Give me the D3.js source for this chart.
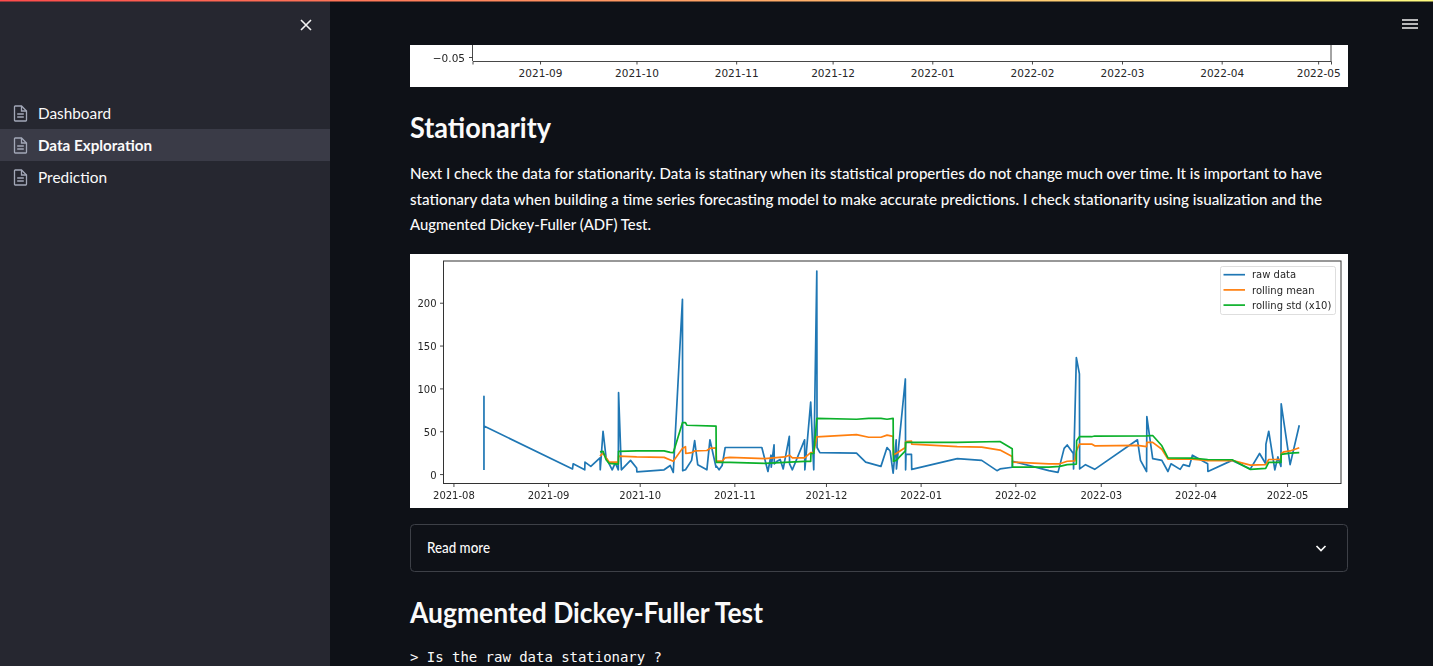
<!DOCTYPE html>
<html><head><meta charset="utf-8">
<script src="https://cdn.jsdelivr.net/npm/d3@7"></script>
<style>
html,body{margin:0;padding:0;background:#0e1117;overflow:hidden}
svg{display:block}
text{font-family:"Lato","Noto Sans",sans-serif}
.mpl{filter:blur(0.35px)}
.mpl text{font-family:"DejaVu Sans",sans-serif;fill:#262626;font-size:10px}
</style></head><body>
<svg id="page" width="1433" height="666"></svg>
<script>
// ---- data (days since 2021-08-01) ----
const tickLabels = ["2021-08","2021-09","2021-10","2021-11","2021-12","2022-01","2022-02","2022-03","2022-04","2022-05"];
const yTicks = [0,50,100,150,200];
const seriesNames = ["raw data","rolling mean","rolling std (x10)"];
const rawDays = [10,10,10,39,39.2,43,43.1,45,48,48.1,49,50,52,53,54,54.1,55,58,60,60.1,69,71,72,75,75.1,76,78,79,80,83,84,86,86.2,87,88,89,101,103,104,104.1,105,105.1,106,107,108,110,110.1,111,115,115.1,117,118,119,119.1,120,132,135,140,142,143,144,145,145.1,148,148.1,148.2,150,150.1,165,173,178,179,183,183.1,195,198,200,201,203,203.1,204,205,205.1,207,210,224,225,227,227.1,229,232,234,235,238,239,241,242,247,247.1,255,261,264,266,266.1,267,269,270,271,271.1,274,277];
const rawVals = [4.7,90.7,56,6,12,5,14,9,19,5,50,19,5,13,5,95,5,16,7,2.5,5,10,2,204,4,5,16,39,11,5,40,8,9,5,10,31,31,3,22,8,34,12,15,17,6,44,12,5,40,5,84,5,237,31,25,24.5,14,9,31,27,1,40,6,111,5,23,23,5.5,18,16,4,6,8,15,4,2,30,34,24,6,136,117,6,11,5.5,40,16,3,67,18,16,3,12,5.5,11,9,22,12,3,16,6,24,12,35,50,5,20,9,82,11,57];
const meanDays = [48,49,50,51,54,54.1,60,69,72,75,76,76.1,78,79,83,84,86,86.1,88,89,90.5,102,108.5,110,111,115,117,118,119,132,136,140,142,144,144.1,145,148,148.1,150,150.1,165,173,179,183,183.1,195,198.6,201,203.5,204,205,209,210,224,227,227.1,229,232,234,242,247,255,261,266,267,271,271.1,272,274,277];
const meanVals = [21,24.5,19,14,14,21,20,19.5,15,30,32,24,25,27,27.5,30,30.5,15,15,19,19.5,18,20,22,19,19,25,25,43.5,46,43,43,45.5,44,22.5,24,31,38,38.5,35,32,31.5,28,20.6,14,12,12,15,15.5,27,35,35,33,33.5,32,37,37,29,17.5,17.5,15.6,16,10.5,11,17,17,24,26,27,30.7];
const stdDays = [48,49,50,51,54,54.1,60,69,71,72,75,76,76.4,86,86.1,90.5,102,115,117,117.1,118,119,132,136,140,142,144,144.1,145,148,148.1,165,179,183,183.1,195,198.6,201,204,204.1,205,209,210,227,229,232,234,242,247,255,261,266,267,271,271.1,274,277];
const stdVals = [26,26.5,16.7,12.5,11.7,26.5,27,27,25.3,25,60,60,57,56,13.6,13.6,12.5,14.8,14.8,24,24,65,64,65,65,64,65,15,16,27,37,37,38,29.5,8,8,9,11,11.7,39,43.6,43.6,44.4,44.7,45,33,19,18.7,17,16.7,5.4,6.6,13.6,13.6,23,24.5,25];
const seriesColors = ["#1f77b4","#ff7f0e","#0bb02a"];
const navItems = ["Dashboard","Data Exploration","Prediction"];
const navWidths = [73,114,69];

const svg = d3.select("#page");
const defs = svg.append("defs");
const grad = defs.append("linearGradient").attr("id","topbar");
grad.append("stop").attr("offset","0").attr("stop-color","#ff4b4b");
grad.append("stop").attr("offset","1").attr("stop-color","#fffd80");

// ---- page chrome ----
svg.append("rect").attr("width",330).attr("height",666).attr("fill","#262730");
svg.append("rect").attr("y",129).attr("width",330).attr("height",32).attr("fill","#3a3b47");
svg.append("rect").attr("width",1433).attr("height",1.5).attr("fill","url(#topbar)");
svg.append("path").attr("d","M301 20L311 30M311 20L301 30").attr("stroke","#f3f3f3").attr("stroke-width",1.6).attr("fill","none");
svg.append("path").attr("d","M1402 20H1418M1402 24H1418M1402 28H1418").attr("stroke","#f0f0f0").attr("stroke-width",1.6).attr("fill","none");

navItems.forEach((t,i)=>{
  const cy = 113.5+i*32;
  const ic = svg.append("g").attr("transform",`translate(14,${cy-8})`).attr("fill","none").attr("stroke","#a3a8b8").attr("stroke-width",1.3);
  ic.append("path").attr("d","M0.5 1.2Q0.5 0.5 1.2 0.5H7.5L12.5 5.5V14.8Q12.5 15.5 11.8 15.5H1.2Q0.5 15.5 0.5 14.8Z");
  ic.append("path").attr("d","M7.5 .5V5.5H12.5M3.2 8.5H9.8M3.2 11.5H9.8");
  svg.append("text").attr("x",38).attr("y",cy+5.5).attr("font-size",15.5).attr("font-weight",i===1?700:400)
    .attr("fill","#fafafa").attr("textLength",navWidths[i]).attr("lengthAdjust","spacingAndGlyphs").text(t);
});

function txt(t,x,y,size,weight,len){
  const e = svg.append("text").attr("x",x).attr("y",y).attr("font-size",size).attr("font-weight",weight).attr("fill","#fafafa").text(t);
  if(len) e.attr("textLength",len).attr("lengthAdjust","spacingAndGlyphs");
  return e;
}
txt("Stationarity",410,138,28,700,141);
txt("Next I check the data for stationarity. Data is statinary when its statistical properties do not change much over time. It is important to have",410,178.5,15.7,500,912);
txt("stationary data when building a time series forecasting model to make accurate predictions. I check stationarity using isualization and the",410,204.5,15.7,500,912);
txt("Augmented Dickey-Fuller (ADF) Test.",410,230,15.7,500,241);
svg.append("rect").attr("x",410.5).attr("y",524.5).attr("width",937).attr("height",47).attr("rx",4).attr("fill","none").attr("stroke","#3d4047");
txt("Read more",427,553,14.5,500,63);
svg.append("path").attr("d","M1316.5 546L1321 550.5L1325.5 546").attr("fill","none").attr("stroke","#fafafa").attr("stroke-width",1.7);
txt("Augmented Dickey-Fuller Test",410,623,28,700,353);
svg.append("text").attr("x",410).attr("y",662).attr("font-size",14).attr("fill","#fafafa")
  .style("font-family","'DejaVu Sans Mono',monospace").attr("textLength",252).text("> Is the raw data stationary ?");

// ---- fragment of the previous figure ----
const prevFig = svg.append("g").attr("class","mpl");
prevFig.append("rect").attr("x",410).attr("y",45).attr("width",938).attr("height",42).attr("fill","#fff");
const parse = d3.utcParse("%Y-%m");
const xPrev = d3.scaleUtc().domain([d3.utcDay.offset(parse("2021-09"),-20.78),d3.utcDay.offset(parse("2021-09"),246.25)]).range([472.5,1331]);
const axPrev = prevFig.append("g").attr("transform","translate(0,61)").call(
  d3.axisBottom(xPrev).tickValues(tickLabels.slice(1).map(parse)).tickFormat(d3.utcFormat("%Y-%m")).tickSizeOuter(0).tickSize(3.5).tickPadding(5));
axPrev.selectAll("text").style("font-size","10.5px").attr("fill","#262626");
axPrev.selectAll("line,path").attr("stroke","#333").attr("stroke-width",0.9);
prevFig.append("path").attr("d","M472.5 45V61M1331 45V61").attr("stroke","#333").attr("stroke-width",0.9).attr("fill","none");
prevFig.append("path").attr("d","M469 57.5H472.5").attr("stroke","#333").attr("stroke-width",0.9);
prevFig.append("text").attr("x",465).attr("y",61.5).attr("text-anchor","end").style("font-size","10.5px").text("\u22120.05");

// ---- main figure ----
const fig = svg.append("g").attr("class","mpl");
fig.append("rect").attr("x",410).attr("y",254).attr("width",938).attr("height",254).attr("fill","#fff");
const base = parse("2021-08");
const M = {l:443.5,r:1341,t:261,b:483.5};
const xs = d3.scaleUtc().domain([d3.utcHour.offset(base,-78),d3.utcHour.offset(base,290.7*24)]).range([M.l,M.r]);
const ys = d3.scaleLinear().domain([-11,248.7]).range([M.b,M.t]);
const zip = (d,v)=>d.map((a,i)=>[d3.utcHour.offset(base,Math.round(a*24)),v[i]]);
const lineGen = d3.line().x(p=>xs(p[0])).y(p=>ys(p[1]));
[[rawDays,rawVals],[meanDays,meanVals],[stdDays,stdVals]].forEach(([d,v],i)=>{
  fig.append("path").datum(zip(d,v)).attr("d",lineGen).attr("fill","none")
    .attr("stroke",seriesColors[i]).attr("stroke-width",1.7).attr("stroke-linejoin","round");
});
const ax = fig.append("g").attr("transform",`translate(0,${M.b})`).call(
  d3.axisBottom(xs).tickValues(tickLabels.map(parse)).tickFormat(d3.utcFormat("%Y-%m")).tickSize(3.5).tickPadding(4.5).tickSizeOuter(0));
const ay = fig.append("g").attr("transform",`translate(${M.l},0)`).call(
  d3.axisLeft(ys).tickValues(yTicks).tickSize(3.5).tickPadding(3.5).tickSizeOuter(0));
[ax,ay].forEach(a=>{a.selectAll("line").attr("stroke","#333").attr("stroke-width",0.9);a.select(".domain").remove();a.selectAll("text").attr("fill","#262626").style("font-size","10px");});
ay.selectAll("text").attr("dy","0.4em");
fig.append("rect").attr("x",M.l).attr("y",M.t).attr("width",M.r-M.l).attr("height",M.b-M.t).attr("fill","none").attr("stroke","#333").attr("stroke-width",1);
const leg = fig.append("g");
leg.append("rect").attr("x",1220.5).attr("y",266.5).attr("width",115).attr("height",48).attr("rx",2).attr("fill","#fff").attr("stroke","#d5d5d5").attr("stroke-width",0.8);
seriesNames.forEach((n,i)=>{
  const ly = 274.7+i*15.2;
  leg.append("line").attr("x1",1223.5).attr("x2",1245).attr("y1",ly).attr("y2",ly).attr("stroke",seriesColors[i]).attr("stroke-width",1.7);
  leg.append("text").attr("x",1252).attr("y",ly+3.6).text(n);
});
</script>
</body></html>
